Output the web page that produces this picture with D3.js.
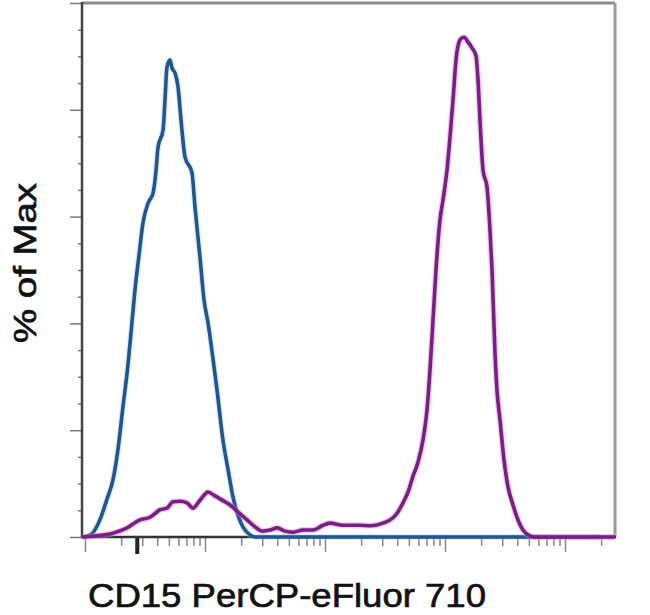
<!DOCTYPE html>
<html>
<head>
<meta charset="utf-8">
<script src="https://cdn.jsdelivr.net/npm/d3@7"></script>
<style>
  html, body { margin: 0; padding: 0; background: #fff; }
  svg { display: block; }
</style>
</head>
<body>
<svg id="chart" width="650" height="615"></svg>
<script>
// ---- Data (fluorescence intensity, % of Max) ----
const blueX = [9.8, 11.4, 13.3, 15.2, 17.1, 18.8, 20.7, 22.8, 24.6, 26.1, 28.2, 30.4, 33.5, 36.9, 39.1, 40.6, 44.7, 46.4, 48.2, 51.1, 53.1, 56.2, 59.6, 63.1, 68.1, 77.9, 82.5, 90.8, 98.1, 106, 117, 126, 141, 156, 171, 188, 207, 237, 261, 195000];
const blueY = [0, 0.6, 3.2, 7, 10.7, 16.3, 24.3, 32.2, 40.1, 46.3, 52.8, 58.8, 62.5, 64.4, 68.7, 73, 76.2, 81.8, 88, 89.3, 87.8, 86.9, 84.3, 78.1, 71.2, 68.2, 61.8, 52.4, 44.4, 40.1, 33.1, 27.5, 18.2, 12.5, 7.5, 4.1, 1.9, 0.4, 0, 0];

const magX = [9.44, 12.1, 17.1, 21.5, 28.7, 34.8, 42.2, 48.2, 54.1, 61.9, 70.8, 79.4, 90.8, 106, 121, 139, 162, 188, 224, 261, 299, 348, 398, 464, 541, 656, 794, 944, 1101, 1413, 1957, 2371, 3043, 3687, 4055, 4467, 4917, 5410, 5957, 6561, 7079, 7499, 7943, 8414, 9085, 9623, 10390, 11010, 11660, 12350, 13340, 14390, 15540, 16790, 18130, 18840, 19570, 20750, 22390, 23710, 24650, 26100, 27120, 28730, 31040, 33500, 36880, 40550, 44670, 51050, 56230, 261000];
const magY = [0, 0.2, 0.7, 1.5, 3.2, 3.7, 5.1, 5.4, 6.6, 6.7, 6.4, 5.4, 6.9, 8.4, 7.7, 6.9, 6, 4.7, 3.2, 1.9, 1.1, 1.3, 1.7, 1.1, 0.9, 1.3, 1.3, 2.1, 2.6, 2.2, 2.2, 2.1, 2.6, 3.6, 4.7, 6.4, 8.4, 11.4, 14, 18.2, 23.8, 31.3, 40.6, 50, 59.4, 63.1, 68.7, 74.9, 81.8, 89.3, 93.1, 93.6, 92.7, 91.6, 90.1, 85.6, 78.1, 68.7, 65.5, 57.5, 50, 34.5, 27.5, 21.9, 14.4, 9.4, 6, 3.2, 1.3, 0.2, 0, 0];

const xMajorTicks = [10, 100, 1000, 10000, 100000];
const xMinorTicks = [20, 30, 40, 50, 60, 70, 80, 90,
                     200, 300, 400, 500, 600, 700, 800, 900,
                     2000, 3000, 4000, 5000, 6000, 7000, 8000, 9000,
                     20000, 30000, 40000, 50000, 60000, 70000, 80000, 90000,
                     200000];
const xMarker = [27];
const yMajorTicks = [0, 20, 40, 60, 80, 100];
const yMinorTicks = [5, 10, 15, 25, 30, 35, 45, 50, 55, 65, 70, 75, 85, 90, 95];

const xTitle = "CD15 PerCP-eFluor 710";
const yTitle = "% of Max";

// ---- Layout ----
const L = 82, R = 615, T = 3, B = 537;
const svg = d3.select("#chart");

const x = d3.scaleLog().domain([9.44, 261000]).range([L, R]);
const y = d3.scaleLinear().domain([0, 100]).range([B, T]);

// frame top/right (gray)
svg.append("line").attr("x1", L).attr("x2", R).attr("y1", T).attr("y2", T)
  .attr("stroke", "#8c8c8c").attr("stroke-width", 3);
svg.append("line").attr("x1", R).attr("x2", R).attr("y1", T).attr("y2", B)
  .attr("stroke", "#9a9a9a").attr("stroke-width", 3);

// y axis
const yAxisMajor = d3.axisLeft(y).tickValues(yMajorTicks).tickSize(12).tickFormat("");
const yAxisMinor = d3.axisLeft(y).tickValues(yMinorTicks).tickSize(4).tickFormat("");
const gy = svg.append("g").attr("transform", `translate(${L},0)`);
gy.call(yAxisMajor);
const gy2 = svg.append("g").attr("transform", `translate(${L},0)`);
gy2.call(yAxisMinor);
[gy, gy2].forEach(g => {
  g.select(".domain").remove();
  g.selectAll(".tick line").attr("stroke", "#777").attr("stroke-width", 1.5);
});

// x axis
const xAxisMajor = d3.axisBottom(x).tickValues(xMajorTicks).tickSize(15).tickFormat("");
const xAxisMinor = d3.axisBottom(x).tickValues(xMinorTicks).tickSize(9).tickFormat("");
const xAxisMark = d3.axisBottom(x).tickValues(xMarker).tickSize(17).tickFormat("");
const gx = svg.append("g").attr("transform", `translate(0,${B})`).call(xAxisMajor);
const gx2 = svg.append("g").attr("transform", `translate(0,${B})`).call(xAxisMinor);
const gx3 = svg.append("g").attr("transform", `translate(0,${B})`).call(xAxisMark);
[gx, gx2, gx3].forEach(g => {
  g.select(".domain").remove();
  g.selectAll(".tick line").attr("stroke", "#888").attr("stroke-width", 1.5);
});
gx3.selectAll(".tick line").attr("stroke", "#222").attr("stroke-width", 4);

// axis lines (dark)
svg.append("line").attr("x1", L).attr("x2", L).attr("y1", T - 1).attr("y2", B + 1)
  .attr("stroke", "#444").attr("stroke-width", 2.5);
svg.append("line").attr("x1", L).attr("x2", R + 1).attr("y1", B).attr("y2", B)
  .attr("stroke", "#333").attr("stroke-width", 2.5);

// curves
const line = d3.line().x(d => x(d[0])).y(d => y(d[1])).curve(d3.curveMonotoneX);
const blueData = blueX.map((v, i) => [v, blueY[i]]);
const magData = magX.map((v, i) => [v, magY[i]]);

svg.append("path").datum(blueData).attr("d", line)
  .attr("fill", "none").attr("stroke", "#9ec3e6").attr("stroke-width", 6).attr("opacity", 0.35);
svg.append("path").datum(blueData).attr("d", line)
  .attr("fill", "none").attr("stroke", "#1f5690").attr("stroke-width", 3.6)
  .attr("stroke-linejoin", "round");

svg.append("path").datum(magData).attr("d", line)
  .attr("fill", "none").attr("stroke", "#ec7cf0").attr("stroke-width", 6).attr("opacity", 0.45);
svg.append("path").datum(magData).attr("d", line)
  .attr("fill", "none").attr("stroke", "#752180").attr("stroke-width", 3.6)
  .attr("stroke-linejoin", "round");

// titles
svg.append("text").attr("x", 88).attr("y", 607)
  .attr("font-family", "Liberation Sans, Arial, sans-serif")
  .attr("font-size", 33).attr("fill", "#111")
  .attr("stroke", "#111").attr("stroke-width", 0.7)
  .attr("textLength", 398).attr("lengthAdjust", "spacingAndGlyphs")
  .text(xTitle);

svg.append("text").attr("transform", "translate(36,343) rotate(-90)")
  .attr("font-family", "Liberation Sans, Arial, sans-serif")
  .attr("font-size", 32).attr("fill", "#111")
  .attr("stroke", "#111").attr("stroke-width", 0.7)
  .attr("textLength", 160).attr("lengthAdjust", "spacingAndGlyphs")
  .text(yTitle);
</script>
</body>
</html>
